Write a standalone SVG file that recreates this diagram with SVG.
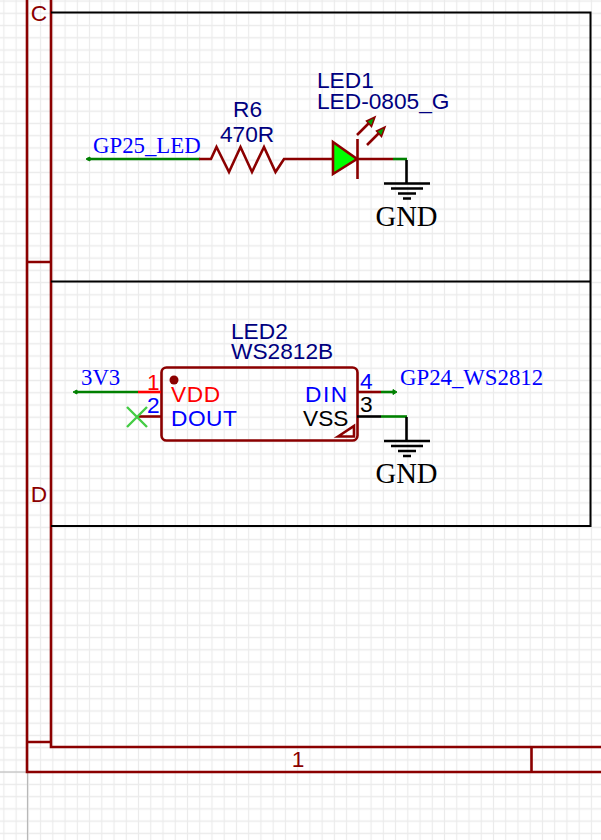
<svg xmlns="http://www.w3.org/2000/svg" width="601" height="840" viewBox="0 0 601 840">
<style>
.f{fill:none;stroke:#8b0000;stroke-width:2.6}
.w{fill:none;stroke:#008000;stroke-width:2.6}
.k{fill:none;stroke:#000;stroke-width:2.6}
.b{fill:none;stroke:#000;stroke-width:2}
.s{font-family:"Liberation Sans",Arial,sans-serif;font-size:22.7px}
.t{font-family:"Liberation Serif","Times New Roman",serif}
.n{font-size:22.8px;fill:#0000ff}
.g{font-size:28.7px;fill:#000}
.l{font-family:"Liberation Sans",Arial,sans-serif;font-size:22.7px;fill:#8b0000;text-anchor:middle}
</style>
<defs>
<pattern id="grid" width="12.24" height="12.24" patternUnits="userSpaceOnUse" x="34.48" y="7.18">
<path d="M6.12 0V12.24M0 6.12H12.24" stroke="#ebebeb" stroke-width="1.2" fill="none"/>
</pattern>
</defs>
<rect width="601" height="840" fill="#fff"/>
<rect width="601" height="840" fill="url(#grid)"/>
<path d="M0 772H27.500V840" fill="none" stroke="#b8b8b8" stroke-width="1.200"/>
<g id="frame">
<path class="f" d="M27 0V772H601M51 0V747H601M27 262H51M27 742H51M531.500 747V772"/>
<text class="l" x="39" y="21">C</text>
<text class="l" x="39" y="502">D</text>
<text class="l" x="298" y="767">1</text>
</g>
<g id="boxes">
<path class="b" d="M51 12.500H590.500V526H51M51 281.500H590.500"/>
</g>
<g id="connectors">
<path class="w" d="M87 159H200"/>
<path d="M86 159l4-2v4z" fill="#008000" stroke="#008000"/>
<path class="w" d="M393 159H407"/>
<path class="k" d="M406.500 160V184"/>
<path class="w" d="M75 392H138"/>
<path d="M73 392l4-2v4z" fill="#008000" stroke="#008000"/>
<path class="w" d="M381 392H395"/>
<path d="M397 392l-4-2.500v5z" fill="#008000" stroke="#008000"/>
<path class="w" d="M381 416.500H407"/>
<path class="k" d="M406.500 417V441"/>
</g>
<g id="R6">
<text class="s" x="233" y="117" fill="#000080">R6</text>
<text class="s" x="220" y="142" fill="#000080">470R</text>
<path class="f" d="M199 159H211L216.500 147L229 172L240.500 147L252 172L264 147L275.500 172L284 159H333"/>
</g>
<g id="LED1">
<text class="s" x="317" y="88" fill="#000080">LED1</text>
<text class="s" x="317" y="109" fill="#000080">LED-0805_G</text>
<path d="M333 142L357 159L333 174Z" fill="#00ff00" stroke="#8b0000" stroke-width="2.600"/>
<path class="f" d="M357.500 139V179M358 159H393"/>
<path class="f" d="M357 135L370 122M367 145L380 132"/>
<path d="M375 117L366.500 121L371.500 126.500Z M385 127L376.500 131L381.500 136.500Z" fill="#00a000" stroke="#8b0000" stroke-width="1.500"/>
</g>
<g id="GND1">
<path class="k" d="M384 183.500H430M391 188.500H423M398 193.500H416M403 198.500H411"/>
<text class="t g" x="406.500" y="226" text-anchor="middle">GND</text>
<text class="t n" x="93" y="153">GP25_LED</text>
</g>
<g id="LED2">
<text class="s" x="231" y="339" fill="#000080">LED2</text>
<text class="s" x="231" y="359" fill="#000080">WS2812B</text>
<rect class="f" x="161.500" y="367.500" width="196" height="73" rx="5"/>
<circle cx="174" cy="380" r="4.500" fill="#8b0000"/>
<path d="M138 392H161" stroke="#ff0000" stroke-width="2.600"/>
<path class="f" d="M138 416.500H161"/>
<path class="f" d="M357 392H381"/>
<path class="k" d="M357 416.500H381"/>
<path class="f" d="M338 436.500L354 426V436.500Z"/>
<text class="s" x="147" y="390" fill="#ff0000">1</text>
<text class="s" x="147" y="413" fill="#0000ff">2</text>
<text class="s" x="360" y="389" fill="#0000ff">4</text>
<text class="s" x="360" y="412" fill="#000">3</text>
<text class="s" x="171" y="402" fill="#ff0000" letter-spacing=".6">VDD</text>
<text class="s" x="171" y="426" fill="#0000ff" letter-spacing=".5">DOUT</text>
<text class="s" x="305" y="402" fill="#0000ff" letter-spacing="1.500">DIN</text>
<text class="s" x="303" y="426" fill="#000">VSS</text>
<path d="M127 407L147 427M147 407L127 427" stroke="#44cc44" stroke-width="2.400" fill="none"/>
<text class="t n" x="81" y="385">3V3</text>
<text class="t n" x="400" y="385">GP24_WS2812</text>
</g>
<g id="GND2">
<path class="k" d="M384 441H430M391 446H423M398 451H416M403 456H411"/>
<text class="t g" x="406.500" y="483" text-anchor="middle">GND</text>
</g>
</svg>
